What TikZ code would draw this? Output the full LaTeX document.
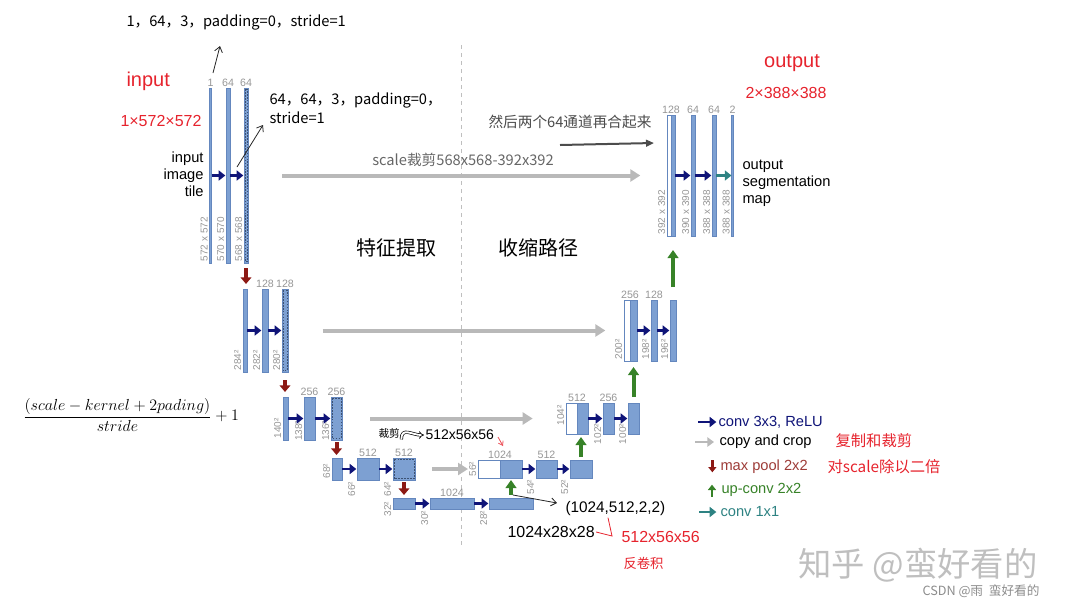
\documentclass[tikz,border=0pt]{standalone}
\usepackage{fontspec}
\setmainfont{Liberation Sans}
\newfontfamily\cjk{Noto Sans CJK SC}
\usetikzlibrary{arrows.meta,fit}

\definecolor{barblue}{RGB}{125,160,210}
\definecolor{barline}{RGB}{100,135,190}
\definecolor{convblue}{RGB}{15,20,120}
\definecolor{copygray}{RGB}{185,185,185}
\definecolor{poolred}{RGB}{140,25,20}
\definecolor{upgreen}{RGB}{55,130,40}
\definecolor{finalteal}{RGB}{45,130,130}
\definecolor{labgray}{RGB}{150,150,150}
\definecolor{notered}{RGB}{230,35,45}

\tikzset{every picture/.style={line width=0.75pt}}
\tikzset{
  fbar/.style={draw=barline, fill=barblue, line width=0.4pt, inner sep=0pt, outer sep=0pt},
  wbar/.style={draw=barline, fill=white, line width=0.4pt, inner sep=0pt, outer sep=0pt},
  cropbox/.style={draw=barline!60!black, dash pattern=on 1.2pt off 1pt, line width=0.5pt},
  chlab/.style={text=labgray, font=\fontsize{8}{9}\selectfont, inner sep=1pt, anchor=south},
  dimlab/.style={text=labgray, font=\fontsize{7.5}{8}\selectfont, inner sep=1pt, rotate=90},
  conv/.style={-{Triangle[length=5pt,width=7.5pt]}, line width=2.2pt, draw=convblue, shorten >=0.5pt},
  copyc/.style={-{Triangle[length=7.5pt,width=9pt]}, line width=3pt, draw=copygray},
  pool/.style={-{Triangle[length=5pt,width=8pt]}, line width=3pt, draw=poolred},
  upc/.style={-{Triangle[length=6pt,width=8pt]}, line width=3pt, draw=upgreen},
  finalc/.style={-{Triangle[length=5pt,width=7.5pt]}, line width=2.2pt, draw=finalteal},
  note/.style={-{Straight Barb[length=4pt,width=6pt]}, line width=0.6pt, draw=black!85},
  txt/.style={inner sep=0.75pt, font=\fontsize{11}{14}\selectfont},
  cjktxt/.style={inner sep=0.75pt, font=\cjk\fontsize{11}{14}\selectfont},
}

\begin{document}
\begin{tikzpicture}[x=0.75pt,y=0.75pt,yscale=-1,xscale=1]
\useasboundingbox (0,0) rectangle (1080,608);

%Straight Lines: middle split
\draw [draw=black!25, dashed, line width=0.6pt] (461,45) -- (461,548);

%Shape: Rectangle -- contracting path
\node[fbar, fit={(209.5,88) (211.5,263)}] (d1a) {};
\node[fbar, fit={(226,88) (230,263)}] (d1b) {};
\node[fbar, fit={(244,88) (248,263)}] (d1c) {};
\node[fbar, fit={(243,289) (247,372)}] (d2a) {};
\node[fbar, fit={(262,289) (268,372)}] (d2b) {};
\node[fbar, fit={(282,289) (288,372)}] (d2c) {};
\node[fbar, fit={(283,397) (288,440)}] (d3a) {};
\node[fbar, fit={(304,397) (315,440)}] (d3b) {};
\node[fbar, fit={(331,397) (342,440)}] (d3c) {};
\node[fbar, fit={(332,458) (342,480)}] (d4a) {};
\node[fbar, fit={(357,458) (379,480)}] (d4b) {};
\node[fbar, fit={(393,458) (415,480)}] (d4c) {};
\node[fbar, fit={(393,498) (415,509)}] (b1) {};
\node[fbar, fit={(430,498) (474,509)}] (b2) {};
\node[fbar, fit={(489,498) (533,509)}] (b3) {};
%Shape: Rectangle -- expanding path
\node[wbar, fit={(478,460) (500,478)}] (u4a) {};
\node[fbar, fit={(500,460) (522,478)}] (u4b) {};
\node[fbar, fit={(536,460) (557,478)}] (u4c) {};
\node[fbar, fit={(570,460) (592,478)}] (u4d) {};
\node[wbar, fit={(566,403) (577,434)}] (u3a) {};
\node[fbar, fit={(577,403) (588,434)}] (u3b) {};
\node[fbar, fit={(603,403) (614,434)}] (u3c) {};
\node[fbar, fit={(628,403) (639,434)}] (u3d) {};
\node[wbar, fit={(624,300) (630,361)}] (u2a) {};
\node[fbar, fit={(630,300) (637,361)}] (u2b) {};
\node[fbar, fit={(651,300) (657,361)}] (u2c) {};
\node[fbar, fit={(670,300) (676,361)}] (u2d) {};
\node[wbar, fit={(667,115) (671,236)}] (u1a) {};
\node[fbar, fit={(671,115) (675,236)}] (u1b) {};
\node[fbar, fit={(691,115) (695,236)}] (u1c) {};
\node[fbar, fit={(712,115) (716,236)}] (u1d) {};
\node[fbar, fit={(731.5,115) (733.5,236)}] (u1e) {};

% cropped parts
\foreach \b in {d1c,d2c,d3c,d4c}
  \draw[cropbox] ([xshift=0.8pt,yshift=1pt]\b.north west) rectangle ([xshift=-0.8pt,yshift=-1pt]\b.south east);

% channel numbers
\node[chlab] at (d1a.north) {1};
\node[chlab] at (d1b.north) {64};
\node[chlab] at (d1c.north) {64};
\node[chlab] at (d2b.north) {128};
\node[chlab] at (d2c.north) {128};
\node[chlab] at (d3b.north) {256};
\node[chlab] at (d3c.north) {256};
\node[chlab] at (d4b.north) {512};
\node[chlab] at (d4c.north) {512};
\node[chlab] at (b2.north) {1024};
\node[chlab] at (u4a.north east) {1024};
\node[chlab] at (u4c.north) {512};
\node[chlab] at (u3a.north east) {512};
\node[chlab] at (u3c.north) {256};
\node[chlab] at (u2a.north east) {256};
\node[chlab] at (u2c.north) {128};
\node[chlab] at (u1a.north east) {128};
\node[chlab] at (u1c.north) {64};
\node[chlab] at (u1d.north) {64};
\node[chlab] at (u1e.north) {2};

% feature map sizes
\node[dimlab, anchor=south west] at (d1a.south west) {572 x 572};
\node[dimlab, anchor=south west] at (d1b.south west) {570 x 570};
\node[dimlab, anchor=south west] at (d1c.south west) {568 x 568};
\node[dimlab, anchor=south west] at (d2a.south west) {284²};
\node[dimlab, anchor=south west] at (d2b.south west) {282²};
\node[dimlab, anchor=south west] at (d2c.south west) {280²};
\node[dimlab, anchor=south west] at (d3a.south west) {140²};
\node[dimlab, anchor=south west] at ([yshift=2pt]d3b.south west) {138²};
\node[dimlab, anchor=south west] at ([yshift=2pt]d3c.south west) {136²};
\node[dimlab, anchor=south west] at (d4a.south west) {68²};
\node[dimlab, anchor=south east] at (d4b.south west) {66²};
\node[dimlab, anchor=south east] at (d4c.south west) {64²};
\node[dimlab, anchor=south east] at ([yshift=1.5pt]b1.north west) {32²};
\node[dimlab, anchor=south east] at (b2.south west) {30²};
\node[dimlab, anchor=south east] at (b3.south west) {28²};
\node[dimlab, anchor=south west] at (u4a.south west) {56²};
\node[dimlab, anchor=south east] at (u4c.south west) {54²};
\node[dimlab, anchor=south east] at (u4d.south west) {52²};
\node[dimlab, anchor=south west] at ([yshift=-5pt]u3a.south west) {104²};
\node[dimlab, anchor=south] at (u3c.south west) {102²};
\node[dimlab, anchor=south] at (u3d.south west) {100²};
\node[dimlab, anchor=south west] at (u2a.south west) {200²};
\node[dimlab, anchor=south west] at (u2c.south west) {198²};
\node[dimlab, anchor=south west] at (u2d.south west) {196²};
\node[dimlab, anchor=south west] at (u1a.south west) {392 x 392};
\node[dimlab, anchor=south west] at (u1c.south west) {390 x 390};
\node[dimlab, anchor=south west] at (u1d.south west) {388 x 388};
\node[dimlab, anchor=south west] at (u1e.south west) {388 x 388};

%Straight Lines: conv 3x3
\draw[conv] (d1a) -- (d1b);
\draw[conv] (d1b) -- (d1c);
\draw[conv] (d2a) -- (d2b);
\draw[conv] (d2b) -- (d2c);
\draw[conv] (d3a) -- (d3b);
\draw[conv] (d3b) -- (d3c);
\draw[conv] (d4a) -- (d4b);
\draw[conv] (d4b) -- (d4c);
\draw[conv] (b1) -- (b2);
\draw[conv] (b2) -- (b3);
\draw[conv] (u4b) -- (u4c);
\draw[conv] (u4c) -- (u4d);
\draw[conv] (u3b) -- (u3c);
\draw[conv] (u3c) -- (u3d);
\draw[conv] (u2b) -- (u2c);
\draw[conv] (u2c) -- (u2d);
\draw[conv] (u1b) -- (u1c);
\draw[conv] (u1c) -- (u1d);
\draw[finalc] (u1d) -- (u1e);

%Straight Lines: copy and crop
\draw[copyc, shorten <=25.5pt, shorten >=20pt] (d1c) -- (u1a);
\draw[copyc, shorten <=26pt, shorten >=14pt] (d2c) -- (u2a);
\draw[copyc, shorten <=21pt, shorten >=25pt] (d3c) -- (u3a);
\draw[copyc, shorten <=12.75pt, shorten >=7.5pt] (d4c) -- (u4a);

%Straight Lines: max pool
\draw[pool, shorten <=3.75pt, shorten >=3.75pt] (d1c.south) -- (d1c.south |- d2a.north);
\draw[pool, shorten <=6pt, shorten >=3.75pt] (d2c.south) -- (d2c.south |- d3a.north);
\draw[pool, shorten <=1.5pt, shorten >=2.25pt] (d3c.south) -- (d3c.south |- d4a.north);
\draw[pool, shorten <=1.5pt, shorten >=2.25pt] (d4c.south) -- (d4c.south |- b1.north);

%Straight Lines: up-conv
\draw[upc, shorten <=2.25pt, shorten >=1.5pt] (b3.north -| u4b) -- (u4b.south);
\draw[upc, shorten <=2.25pt, shorten >=2.25pt] (u4d.north) -- (u4d.north |- u3b.south);
\draw[upc, shorten <=4.5pt, shorten >=4.5pt] (u3d.north) -- (u3d.north |- u2b.south);
\draw[upc, shorten <=9.75pt, shorten >=10.5pt] (u2d.north) -- (u2d.north |- u1b.south);

% Text Node
\node[cjktxt, anchor=west] (tkern1) at (125,22) {1，64，3，padding=0，stride=1};
\coordinate (n1s) at (213,73);
\coordinate (n1e) at (220,46);
\draw[note] (n1s) -- (n1e);
% Text Node
\node[inner sep=0.75pt, anchor=west, text=notered, font=\fontsize{15}{18}\selectfont] (tin) at (125,81) {input};
% Text Node
\node[inner sep=0.75pt, anchor=west, text=notered, font=\fontsize{12}{14}\selectfont] (tinsz) at (119,121) {1×572×572};
% Text Node
\node[txt, anchor=east, align=right, font=\fontsize{11}{12.75}\selectfont] (ttile) at (205,174) {input\\image\\tile};
% Text Node
\node[cjktxt, anchor=west, align=left] (tkern2) at (268,108) {64，64，3，padding=0，\\stride=1};
\coordinate (n2s) at (237,167);
\coordinate (n2e) at (263,125);
\draw[note] (n2s) -- (n2e);
% Text Node
\node[cjktxt, text=black!60] (tscale) at (463,160) {scale裁剪568x568-392x392};
% Text Node
\node[inner sep=0.75pt, font=\cjk\fontsize{15}{18}\selectfont] (tfeat) at (396,248) {特征提取};
\node[inner sep=0.75pt, font=\cjk\fontsize{15}{18}\selectfont] (tpath) at (538,248) {收缩路径};
% Text Node
\node[cjktxt, text=black!70] (tmerge) at (570,122) {然后两个64通道再合起来};
\coordinate (m1) at (560,145);
\coordinate (m2) at (654,143);
\draw[-{Triangle[length=6pt,width=5pt]}, line width=1.5pt, draw=black!70] (m1) -- (m2);
% Text Node
\node[inner sep=0.75pt, text=notered, font=\fontsize{15}{18}\selectfont] (tout) at (792,63) {output};
\node[inner sep=0.75pt, text=notered, font=\fontsize{12}{14}\selectfont] (toutsz) at (786,93) {2×388×388};
% Text Node
\node[txt, anchor=west, align=left, font=\fontsize{11}{12.75}\selectfont] (tseg) at (741,183) {output\\segmentation\\map};

% Text Node: formula
\node[inner sep=0.75pt, font=\fontsize{13}{15}\selectfont] (tformula) at (131,415) {$\displaystyle\frac{(scale-kernel+2pading)}{stride}+1$};

% Text Node: crop note
\node[inner sep=0.75pt, anchor=west, font=\cjk\fontsize{8}{9}\selectfont] (tcut) at (377,433) {裁剪};
\node[inner sep=0.75pt, anchor=west, font=\fontsize{10.5}{12}\selectfont] (tcutdim) at (424,435) {512x56x56};
\draw[double, double distance=1.4pt, line width=0.5pt, -{Implies}] (tcut.south east) .. controls +(0,-13) and +(-12,0) .. (tcutdim.west);
\draw[-{Straight Barb[length=3pt,width=4pt]}, line width=0.6pt, draw=notered!80] (498,437) -- (503,446);

% Text Node: up-conv notes
\node[inner sep=0.75pt, anchor=west, font=\fontsize{11.5}{14}\selectfont] (tkernel) at (564,509) {(1024,512,2,2)};
\coordinate (ks) at (513,495);
\coordinate (ke) at (557,503);
\draw[note] (ks) -- (ke);
\node[inner sep=0.75pt, anchor=west, font=\fontsize{12}{14}\selectfont] (tdim) at (506,532) {1024x28x28};
\node[inner sep=0.75pt, anchor=west, text=notered, font=\fontsize{12}{14}\selectfont] (tupsz) at (620,537) {512x56x56};
\node[inner sep=0.75pt, anchor=west, text=notered, font=\cjk\fontsize{10}{12}\selectfont] (tdeconv) at (622,563) {反卷积};
\coordinate (joint) at (612,536);
\draw[draw=notered, line width=0.6pt] (tdim.east) -- (joint) -- ([xshift=33pt]tkernel.south west);

% Legend
\node[txt, anchor=west, text=convblue] (lg1) at (717,422) {conv 3x3, ReLU};
\draw[conv] ([xshift=-14pt]lg1.west) -- (lg1.west);
\node[txt, anchor=west] (lg2) at (718,442) {copy and crop};
\draw[-{Triangle[length=5pt,width=7pt]}, line width=2.2pt, draw=copygray] ([xshift=-17pt]lg2.west) -- ([xshift=-3pt]lg2.west);
\node[txt, anchor=west, text=poolred!85!white] (lg3) at (719,467) {max pool 2x2};
\draw[-{Triangle[length=4pt,width=6pt]}, line width=2.2pt, draw=poolred] ([xshift=-5pt,yshift=-5pt]lg3.west) -- ([xshift=-5pt,yshift=4pt]lg3.west);
\node[txt, anchor=west, text=upgreen] (lg4) at (720,490) {up-conv 2x2};
\draw[-{Triangle[length=4pt,width=6pt]}, line width=2.2pt, draw=upgreen] ([xshift=-6pt,yshift=5pt]lg4.west) -- ([xshift=-6pt,yshift=-4pt]lg4.west);
\node[txt, anchor=west, text=finalteal] (lg5) at (719,512) {conv 1x1};
\draw[finalc] ([xshift=-15pt]lg5.west) -- ([xshift=-2pt]lg5.west);
\node[cjktxt, anchor=west, text=notered, font=\cjk\fontsize{11.5}{14}\selectfont] (lgcopy) at (834,441) {复制和裁剪};
\node[cjktxt, anchor=west, text=notered, font=\cjk\fontsize{11.5}{14}\selectfont] (lgpool) at (826,467) {对scale除以二倍};

% Watermarks
\node[inner sep=0.75pt, text=black!25, font=\cjk\fontsize{25}{28}\selectfont] (wm) at (918,565) {知乎 @蛮好看的};
\node[inner sep=0.75pt, anchor=west, text=black!45, font=\cjk\fontsize{9.5}{11}\selectfont] (csdn) at (921,591) {CSDN @雨\ \ 蛮好看的};

\end{tikzpicture}
\end{document}
